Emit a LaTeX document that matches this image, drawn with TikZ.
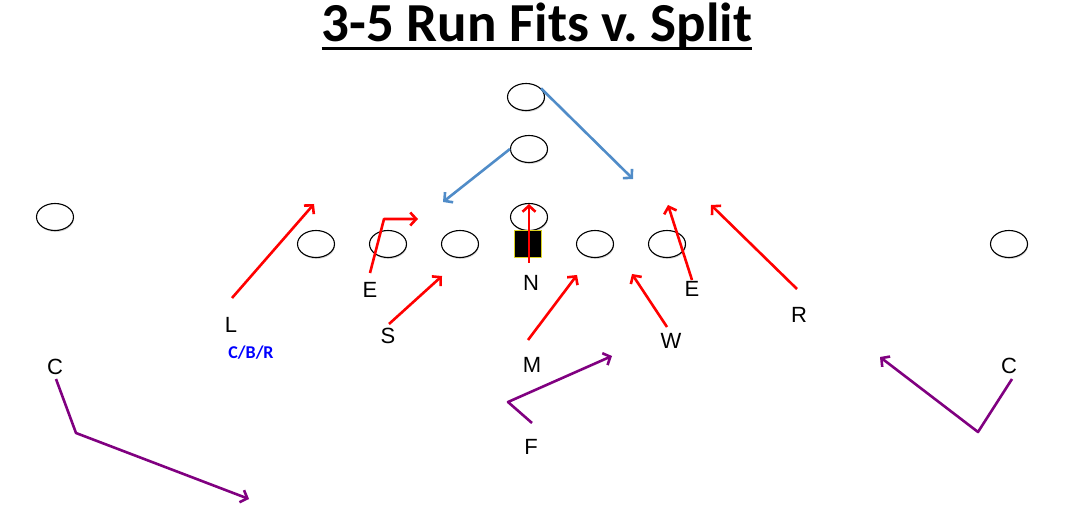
\documentclass[tikz,border=0pt]{standalone}
\usepackage{fontspec}
\setmainfont{Liberation Sans}
\newfontfamily\titlefont{Carlito}
\usetikzlibrary{arrows.meta,shapes.geometric,shadows}
\definecolor{fitred}{RGB}{255,0,0}
\definecolor{dropblue}{RGB}{80,140,200}
\definecolor{cov}{RGB}{128,0,128}
\definecolor{callblue}{RGB}{0,0,255}
\frenchspacing

\begin{document}
\begin{tikzpicture}[x=1pt, y=-1pt, line join=round,
  player/.style={ellipse,draw,line width=1.1pt,fill=white,minimum width=37pt,minimum height=27pt,inner sep=0pt,
    drop shadow={shadow xshift=0.6pt,shadow yshift=-1.4pt,opacity=0.35}},
  ctr/.style={rectangle,draw=yellow!85!black,fill=black,line width=1pt,minimum size=27pt,inner sep=0pt},
  lbl/.style={font=\fontsize{22}{26}\selectfont,inner sep=0pt},
  fit/.style={draw=fitred,line width=2.6pt,-{Straight Barb[length=6pt,width=13pt]}},
  drop/.style={draw=dropblue,line width=2.6pt,-{Straight Barb[length=6pt,width=13pt]}},
  deep/.style={draw=cov,line width=2.6pt,-{Straight Barb[length=6pt,width=13pt]}}]
\useasboundingbox (0,0) rectangle (1070,518);

\node [font=\titlefont\bfseries\fontsize{55}{66}\selectfont,anchor=base,inner sep=0pt] (title) at (537,42) {3-5 Run Fits v. Split};
\draw [line width=3pt] ([yshift=-7pt]title.base west) -- ([yshift=-7pt]title.base east);

% offense
\node [player] (tb) at (526,97) {};
\node [player] (fb) at (529,149) {};
\node [player] (qb) at (529,217) {};
\node [player] (wl) at (55,217) {};
\node [player] (te) at (316,244) {};
\node [player] (lt) at (388,244) {};
\node [player] (lg) at (460,244) {};
\node [ctr] (c) at (528,244) {};
\node [player] (rg) at (595,244) {};
\node [player] (rt) at (667,244) {};
\node [player] (wr) at (1009,244) {};

% defense
\begin{scope}[every node/.style={lbl}]
\node (L) at (231,325) {L};
\node (El) at (370,290) {E};
\node (S) at (388,336) {S};
\node (N) at (531,283) {N};
\node (M) at (532,365) {M};
\node (F) at (531,447) {F};
\node (Er) at (692,289) {E};
\node (W) at (671,341) {W};
\node (R) at (799,315) {R};
\node (Cl) at (55,367) {C};
\node (Cr) at (1009,366) {C};
\end{scope}
\node [font=\titlefont\bfseries\fontsize{18}{22}\selectfont,text=callblue,inner sep=0pt] (call) at (251,353) {C/B/R};

\coordinate (tbx) at (633,179);
\coordinate (fbx) at (443,202);
\coordinate (l0) at (232,298); \coordinate (l1) at (314,204);
\coordinate (e0) at (370,273); \coordinate (e1) at (384,219); \coordinate (e2) at (418,219);
\coordinate (s0) at (389,324); \coordinate (s1) at (442,276);
\coordinate (n0) at (529,263); \coordinate (n1) at (529,204);
\coordinate (m0) at (528,340); \coordinate (m1) at (577,275);
\coordinate (w0) at (667,327); \coordinate (w1) at (632,274);
\coordinate (r0) at (692,280); \coordinate (r1) at (668,205);
\coordinate (k0) at (797,289); \coordinate (k1) at (711,205);
\coordinate (f0) at (532,423); \coordinate (f1) at (508,402); \coordinate (f2) at (612,356);
\coordinate (c0) at (56,379); \coordinate (c1) at (76,433); \coordinate (c2) at (249,499);
\coordinate (d0) at (1012,379); \coordinate (d1) at (978,432); \coordinate (d2) at (880,357);

\path [drop] (tb.30) -- (tbx);
\path [drop] (fb.west) -- (fbx);

\path [fit] (l0) -- (l1);
\path [fit] (e0) -- (e1) -- (e2);
\path [fit] (s0) -- (s1);
\path [fit] (n0) -- (n1);
\path [fit] (m0) -- (m1);
\path [fit] (w0) -- (w1);
\path [fit] (r0) -- (r1);
\path [fit] (k0) -- (k1);

\path [deep] (f0) -- (f1) -- (f2);
\path [deep] (c0) -- (c1) -- (c2);
\path [deep] (d0) -- (d1) -- (d2);
\end{tikzpicture}
\end{document}
